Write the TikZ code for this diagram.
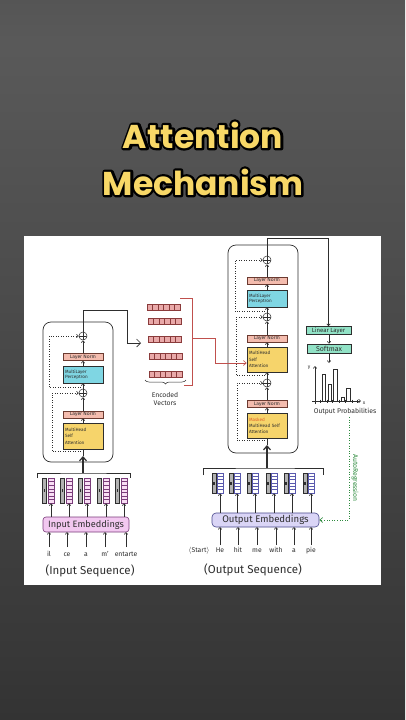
\documentclass[tikz,border=0pt]{standalone}
\usepackage{fontspec}
\setmainfont{Fira Sans}
\newfontfamily\titlefont{Poppins}
\usetikzlibrary{arrows.meta,decorations.pathreplacing,calc}
\definecolor{lnfill}{HTML}{F4BCAE}
\definecolor{lndraw}{HTML}{6B3A30}
\definecolor{mlpfill}{HTML}{7FD6E3}
\definecolor{attfill}{HTML}{F6D46B}
\definecolor{cellfill}{HTML}{E9A9A9}
\definecolor{celldraw}{HTML}{8A3B3B}
\definecolor{redline}{HTML}{C0504D}
\definecolor{pinkvec}{HTML}{F8DDF4}
\definecolor{pinkdraw}{HTML}{7A3C7A}
\definecolor{iefill}{HTML}{F2C8F0}
\definecolor{oefill}{HTML}{DAD5F6}
\definecolor{blueline}{HTML}{5A5AAE}
\definecolor{mint}{HTML}{91E2C6}
\definecolor{greenline}{HTML}{2E8B3E}
\definecolor{titley}{HTML}{F8D867}
\definecolor{ink}{HTML}{2E2E2E}
\definecolor{maskred}{HTML}{E0602A}
\pgfdeclareverticalshading{bgsh}{100bp}{color(0bp)=(black!90); color(30bp)=(black!78); color(72bp)=(black!65); color(100bp)=(black!80)}
\newcommand\strokeon{\special{pdf:literal direct 1 Tr 4.6 w 1 j 0 0 0 RG}}
\newcommand\strokeoff{\special{pdf:literal direct 0 Tr}}
\begin{document}
\begin{tikzpicture}[x=1pt,y=-1pt,
  every node/.style={inner sep=0pt, text=ink},
  ttl/.style={font=\titlefont\bfseries\fontsize{33}{33}\selectfont},
  lnbox/.style={draw=lndraw, fill=lnfill, line width=0.5pt, minimum width=40pt, minimum height=7pt, font=\fontsize{5}{5}\selectfont},
  mlpbox/.style={draw=ink, fill=mlpfill, line width=0.5pt, minimum width=40pt, minimum height=17pt, align=left, text width=36pt, font=\fontsize{4.6}{5.4}\selectfont},
  attbox/.style={draw=ink, fill=attfill, line width=0.5pt, minimum width=40pt, align=left, text width=36pt, font=\fontsize{4.6}{6.5}\selectfont},
  pluscirc/.style={draw=ink, circle, minimum size=8pt, line width=0.5pt, path picture={\draw[ink,line width=0.5pt] (path picture bounding box.north) -- (path picture bounding box.south) (path picture bounding box.west) -- (path picture bounding box.east);}},
  stack/.style={draw=ink, rounded corners=8pt, line width=0.7pt},
  conn/.style={draw=ink, line width=0.6pt},
  tip/.style={-{Straight Barb[length=2pt,width=3.5pt]}},
  bigtip/.style={-{Straight Barb[length=4pt,width=7pt]}},
  resid/.style={draw=ink, line width=0.5pt, dotted, -{Straight Barb[length=2pt,width=3.5pt]}},
  grayvec/.style={draw=ink, fill=black!30, line width=0.4pt, minimum width=4.5pt},
  pvec/.style={draw=pinkdraw, fill=pinkvec, line width=0.5pt, minimum width=6pt},
  bvec/.style={draw=blueline, fill=white, line width=0.5pt, minimum width=6pt},
  word/.style={font=\fontsize{6.8}{7}\selectfont},
  seq/.style={font=\fontsize{11.5}{12}\selectfont},
  greenbox/.style={draw=ink, fill=mint, line width=0.5pt, minimum height=8pt, font=\fontsize{6}{6}\selectfont},
]
\useasboundingbox (0,0) rectangle (405,720);
\shade[shading=bgsh] (0,0) rectangle (405,720);
% title
\node[ttl,text=black] (t1o) at (203,135) {\strokeon Attention\strokeoff};
\node[ttl,text=black] (t2o) at (203,182) {\strokeon Mechanism\strokeoff};
\node[ttl,text=titley] (t1) at (203,135) {Attention};
\node[ttl,text=titley] (t2) at (203,182) {Mechanism};
% panel
\fill[white] (24,236) rectangle (381,585);

% ===== encoder =====
\draw[stack] (43,322) rectangle (113,462);
\node[pluscirc] (ep1) at (83,336) {};
\node[lnbox] (eln1) at (83,357) {Layer Norm};
\node[mlpbox] (emlp) at (83,374.5) {MultiLayer\\Perceptron};
\node[pluscirc] (ep2) at (83,393) {};
\node[lnbox] (eln2) at (83,414.5) {Layer Norm};
\node[attbox, minimum height=26pt] (emh) at (83,436) {MultiHead\\Self\\Attention};
\draw[conn,tip] (eln1.north) -- (ep1.south);
\draw[conn,tip] (emlp.north) -- (eln1.south);
\draw[conn,tip] (ep2.north) -- (emlp.south);
\draw[conn,tip] (eln2.north) -- (ep2.south);
\draw[conn,tip] (emh.north) -- (eln2.south);
\draw[resid] ($(emlp.south)+(0,4)$) -| ($(ep1.west)+(-30,0)$) -- (ep1.west);
\draw[resid] ($(emh.south)+(0,2)$) -| ($(ep2.west)+(-27,0)$) -- (ep2.west);
\coordinate (ebr) at (83,473);
\coordinate (ein) at (83,456);
\draw[conn, line width=1.2pt, bigtip] (ebr) -- (ein);
\draw[conn] (ein) -- (emh.south);
% encoder output
\coordinate (etop) at (83,310);
\coordinate (ebend) at (127,343);
\coordinate (encin) at (141,343);
\draw[conn, -{Straight Barb[length=4pt,width=8pt]}] (ep1.north) -- (etop) -| (ebend) -- (encin);

% encoded vectors
\foreach \xa/\ya in {147/304,148/318,148/336,149/353,149/371} {
  \foreach \i in {0,...,5} \draw[draw=celldraw, fill=cellfill, line width=0.5pt] (\xa+\i*5.5,\ya) rectangle ++(5.5,6);
}
\draw[ink, line width=0.5pt, decorate, decoration={brace, amplitude=4pt, mirror}] (145,380) -- (186,380);
\node[font=\fontsize{6.8}{8}\selectfont, align=center] (encv) at (165,399) {Encoded\\Vectors};
% red bracket to decoder
\coordinate (rtl) at (180,298);
\coordinate (rtr) at (192,298);
\coordinate (rbr) at (192,385);
\coordinate (rbl) at (184,385);
\coordinate (rmid) at (192,338);
\coordinate (rturn) at (215,338);
\draw[redline, line width=0.6pt] (rtl) -- (rtr) -- (rbr) -- (rbl);

% ===== decoder =====
\draw[stack] (228,245) rectangle (298,453);
\node[pluscirc] (dp1) at (267,260) {};
\node[lnbox] (dln1) at (267,280.5) {Layer Norm};
\node[mlpbox] (dmlp) at (267,298.5) {MultiLayer\\Perceptron};
\node[pluscirc] (dp2) at (267,317) {};
\node[lnbox] (dln2) at (267,338.5) {Layer Norm};
\node[attbox, minimum height=25pt] (dmh) at (267,359.5) {MultiHead\\Self\\Attention};
\node[pluscirc] (dp3) at (267,383) {};
\node[lnbox] (dln3) at (267,404) {Layer Norm};
\node[attbox, minimum height=25pt, font=\fontsize{4.6}{6.2}\selectfont] (dmm) at (267,425.5) {\textcolor{maskred}{Masked}\\MultiHead Self\\Attention};
\draw[conn,tip] (dln1.north) -- (dp1.south);
\draw[conn,tip] (dmlp.north) -- (dln1.south);
\draw[conn,tip] (dp2.north) -- (dmlp.south);
\draw[conn,tip] (dln2.north) -- (dp2.south);
\draw[conn,tip] (dmh.north) -- (dln2.south);
\draw[conn,tip] (dp3.north) -- (dmh.south);
\draw[conn,tip] (dln3.north) -- (dp3.south);
\draw[conn,tip] (dmm.north) -- (dln3.south);
\draw[resid] ($(dmlp.south)+(0,4)$) -| ($(dp1.west)+(-28,0)$) -- (dp1.west);
\draw[resid] ($(dmh.south)+(0,3)$) -| ($(dp2.west)+(-27,0)$) -- (dp2.west);
\draw[resid] ($(dmm.south)+(0,2)$) -| ($(dp3.west)+(-26,0)$) -- (dp3.west);
\coordinate (dbr) at (267,468);
\coordinate (din) at (267,445);
\draw[conn, line width=1.2pt, bigtip] (dbr) -- (din);
\draw[conn] (din) -- (dmm.south);
\draw[redline, line width=0.6pt, -{Straight Barb[length=3pt,width=5pt]}] (rmid) -- (rturn) |- ($(dmh.west)+(0,3.5)$);

% linear / softmax
\node[greenbox, minimum width=45pt] (lin) at (328.5,330.5) {Linear Layer};
\node[greenbox, minimum width=44pt, minimum height=9pt, font=\fontsize{7}{7}\selectfont] (smx) at (329,348.5) {Softmax};
\coordinate (dtop) at (267,238);
\draw[conn, tip] (dp1.north) -- (dtop) -| (lin.north);
\draw[conn, tip] (lin.south) -- (smx.south |- lin.south) -- (smx.north);
\coordinate (smo) at (329,363);
\draw[conn, tip] (smx.south) -- (smo);
% chart
\draw[ink, line width=0.6pt, -{Straight Barb[length=2pt,width=3.5pt]}] (315,404) -- (315,366);
\draw[ink, line width=0.6pt, -{Straight Barb[length=2pt,width=3.5pt]}] (312,401) -- (361,401);
\foreach \xl/\xr/\yt in {322/325.5/374, 328/331.5/384, 333.5/337.5/369, 341/344.5/397, 346.5/350/388} {
  \draw[ink, line width=0.7pt] (\xl,401) -- (\xl,\yt) -- (\xr,\yt) -- (\xr,401);
}
\foreach \xt in {320,327,332,339,345,352,357} \draw[ink, line width=0.5pt] (\xt,399.5) -- (\xt,402.5);
\node[font=\fontsize{5}{5}\selectfont] (ylab) at (309,368) {y};
\node[font=\fontsize{5}{5}\selectfont] (xlab) at (364,403) {x};
\node[font=\fontsize{6.8}{7}\selectfont] (oprob) at (345,412) {Output Probabilities};

% ===== input side =====
\draw[ink, line width=0.6pt] (37,478) -- (37,473) -- (ebr) -- (130,473) -- (130,478);
\node[draw=pinkdraw, fill=iefill, rounded corners=3pt, line width=0.6pt, minimum width=86pt, minimum height=15pt, font=\fontsize{9.2}{10}\selectfont] (ie) at (86,524.5) {Input Embeddings};
\foreach \g [count=\i] in {42,60,78,97,115} {
  \node[grayvec, minimum height=25pt] (eg\i) at (\g+2.25,490.5) {};
  \fill[ink] (\g+1.6,489) rectangle (\g+2.9,492);
  \node[pvec, minimum height=25pt] (ev\i) at (\g+9,490.5) {};
  \foreach \k in {1,...,6} \draw[pinkdraw, line width=0.4pt] (\g+6,478+\k*25/7) -- (\g+12,478+\k*25/7);
  \draw[conn, tip] (ev\i.south |- ie.north) -- (ev\i.south);
}
\foreach \x/\w [count=\i] in {49/il, 67/ce, 86/a, 105/m', 126/entarte} {
  \node[word, anchor=base] (iw\i) at (\x,556) {\w};
  \draw[conn, tip] (\x,547) -- (\x,532);
}
\node[seq] (iseq) at (90,571) {(Input Sequence)};

% ===== output side =====
\draw[ink, line width=0.6pt] (203,475) -- (203,468) -- (dbr) -- (323,468) -- (323,475);
\node[draw=blueline!80!black, fill=oefill, rounded corners=4pt, line width=0.6pt, minimum width=107pt, minimum height=14pt, font=\fontsize{9.6}{10}\selectfont] (oe) at (265.5,520) {Output Embeddings};
\foreach \g [count=\i] in {212,229,247,266,284,303} {
  \node[grayvec, minimum width=4pt, minimum height=20pt] (og\i) at (\g+2,483) {};
  \fill[ink] (\g+1.4,481.5) rectangle (\g+2.6,484.5);
  \node[bvec, minimum height=20pt] (ov\i) at (\g+8,483) {};
  \foreach \k in {1,...,5} \draw[blueline, line width=0.4pt] (\g+5,473+\k*20/6) -- (\g+11,473+\k*20/6);
  \draw[conn, tip] (ov\i.south |- oe.north) -- (ov\i.south);
}
\node[word, anchor=base] (ostart) at (199,552) {$\langle$Start$\rangle$};
\foreach \x/\w [count=\i] in {220/He, 238/hit, 257/me, 276/with, 294/a, 311/pie} {
  \node[word, anchor=base] (ow\i) at (\x,552) {\w};
  \draw[conn, tip] (\x,545) -- (\x,527);
}
\node[seq] (oseq) at (253,570) {(Output Sequence)};

% auto regression
\coordinate (ar1) at (349,417);
\coordinate (ar2) at (349,520);
\draw[greenline, line width=0.6pt, dotted, -{Straight Barb[length=3pt,width=5pt]}] (ar1) -- (ar2) -- (oe.east);
\node[text=greenline, rotate=-90, font=\fontsize{6.8}{7}\selectfont] (arl) at (355,478) {AutoRegression};
\end{tikzpicture}
\end{document}
